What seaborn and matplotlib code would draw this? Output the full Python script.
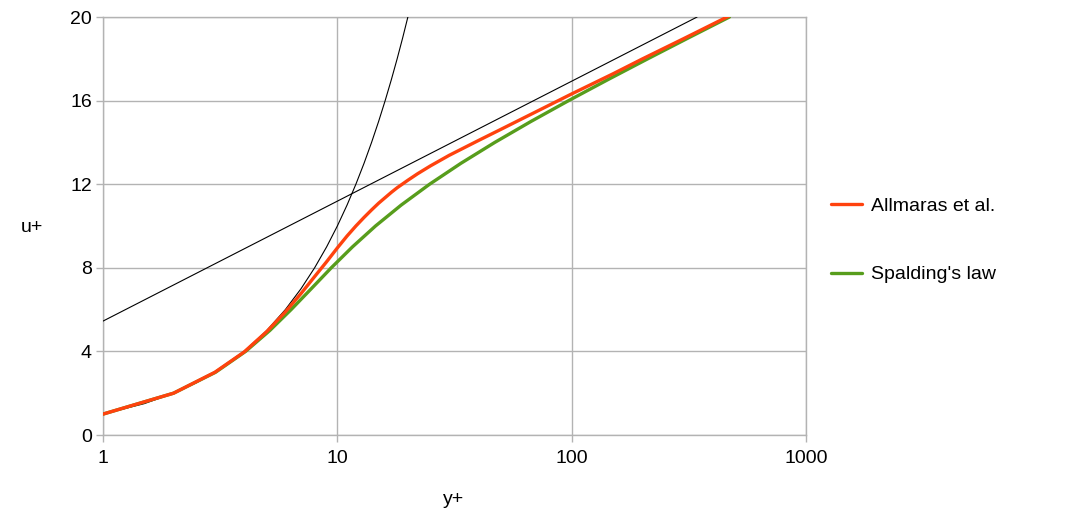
import matplotlib
matplotlib.use("Agg")
import matplotlib.pyplot as plt
import seaborn as sns
import pandas as pd
from matplotlib.ticker import FixedLocator, NullLocator

# ---data---
# Allmaras et al. profile (y+, u+)
allmaras_yplus = [1, 2, 3, 4, 5, 6, 7, 8, 9, 10, 11, 12, 13, 14, 15, 17, 18, 20, 22, 25, 30,
                  40, 50, 70, 100, 150, 200, 300, 470]
allmaras_uplus = [1.00, 2.00, 3.00, 3.97, 4.95, 5.89, 6.77, 7.58, 8.29, 8.95, 9.52, 10.00, 10.41,
                  10.77, 11.09, 11.61, 11.83, 12.19, 12.50, 12.88, 13.38, 14.09, 14.63, 15.45,
                  16.32, 17.28, 17.99, 18.96, 20.05]

# Spalding's law (y+, u+)
spalding_yplus = [1.0, 2.0, 3.02, 4.06, 5.15, 6.35, 7.74, 9.42, 11.6, 14.55, 18.72, 24.76,
                  33.68, 46.99, 66.98, 97.09, 142.6, 211.2, 314.8, 471.3]
spalding_uplus = [1, 2, 3, 4, 5, 6, 7, 8, 9, 10, 11, 12, 13, 14, 15, 16, 17, 18, 19, 20]

# viscous sublayer u+ = y+
viscous_yplus = [1, 1.5, 2, 2.5, 3, 4, 5, 6, 7, 8, 9, 10, 11, 12, 13, 14, 15, 16, 17, 18, 19, 20, 20.5]
viscous_uplus = [1, 1.5, 2, 2.5, 3, 4, 5, 6, 7, 8, 9, 10, 11, 12, 13, 14, 15, 16, 17, 18, 19, 20, 20.5]

# log law (straight on a log axis)
loglaw_yplus = [1, 343]
loglaw_uplus = [5.45, 20.0]

series_names = ["Allmaras et al.", "Spalding's law"]
series_colors = ["#ff420e", "#579d1c"]

x_ticks = [1, 10, 100, 1000]
y_ticks = [0, 4, 8, 12, 16, 20]

sns.set_style("white")
plt.rcParams['font.family'] = ['Liberation Sans', 'DejaVu Sans']
plt.rcParams['text.color'] = 'black'
plt.rcParams['xtick.labelcolor'] = 'black'
plt.rcParams['ytick.labelcolor'] = 'black'
FS = 14

fig = plt.figure(figsize=(10.73, 5.30), dpi=100)
ax = fig.add_axes([103/1073, 1 - 435/530, (806 - 103)/1073, (435 - 17)/530])

df_visc = pd.DataFrame({"y+": viscous_yplus, "u+": viscous_uplus})
df_log = pd.DataFrame({"y+": loglaw_yplus, "u+": loglaw_uplus})
sns.lineplot(data=df_visc, x="y+", y="u+", ax=ax, color="black", lw=0.8, estimator=None)
sns.lineplot(data=df_log, x="y+", y="u+", ax=ax, color="black", lw=0.8, estimator=None)

df_sp = pd.DataFrame({"y+": spalding_yplus, "u+": spalding_uplus})
df_al = pd.DataFrame({"y+": allmaras_yplus, "u+": allmaras_uplus})
sns.lineplot(data=df_sp, x="y+", y="u+", ax=ax, color=series_colors[1], lw=2.4,
             estimator=None, label=series_names[1])
sns.lineplot(data=df_al, x="y+", y="u+", ax=ax, color=series_colors[0], lw=2.4,
             estimator=None, label=series_names[0])

ax.set_xscale("log")
ax.set_xlim(1, 1000)
ax.set_ylim(0, 20)
ax.xaxis.set_major_locator(FixedLocator(x_ticks))
ax.xaxis.set_minor_locator(NullLocator())
ax.set_xticklabels([str(t) for t in x_ticks])
ax.set_yticks(y_ticks)
ax.grid(True, color="#b3b3b3", lw=1)
ax.set_axisbelow(True)
for s in ax.spines.values():
    s.set_visible(True)
    s.set_color("#b3b3b3")
    s.set_linewidth(1)
    s.set_zorder(0.5)
ax.tick_params(axis="both", which="major", length=5, width=1, color="#b3b3b3",
               labelsize=FS, pad=3, bottom=True, left=True)
ax.tick_params(axis="x", pad=6)
ax.set_xlabel("")
ax.set_ylabel("")
fig.text(32/1073, 1 - 228/530, "u+", fontsize=FS, ha="center", va="center")
fig.text(454/1073, 1 - 500/530, "y+", fontsize=FS, ha="center", va="center")

handles, labels = ax.get_legend_handles_labels()
order = [labels.index(n) for n in series_names]
ax.legend([handles[i] for i in order], [labels[i] for i in order],
          loc="center left", bbox_to_anchor=(813/1073, 1 - 240.5/530),
          bbox_transform=fig.transFigure, frameon=False, fontsize=FS,
          labelspacing=2.6, handlelength=1.6, handletextpad=0.5)

fig.savefig("out.png", dpi=100)
